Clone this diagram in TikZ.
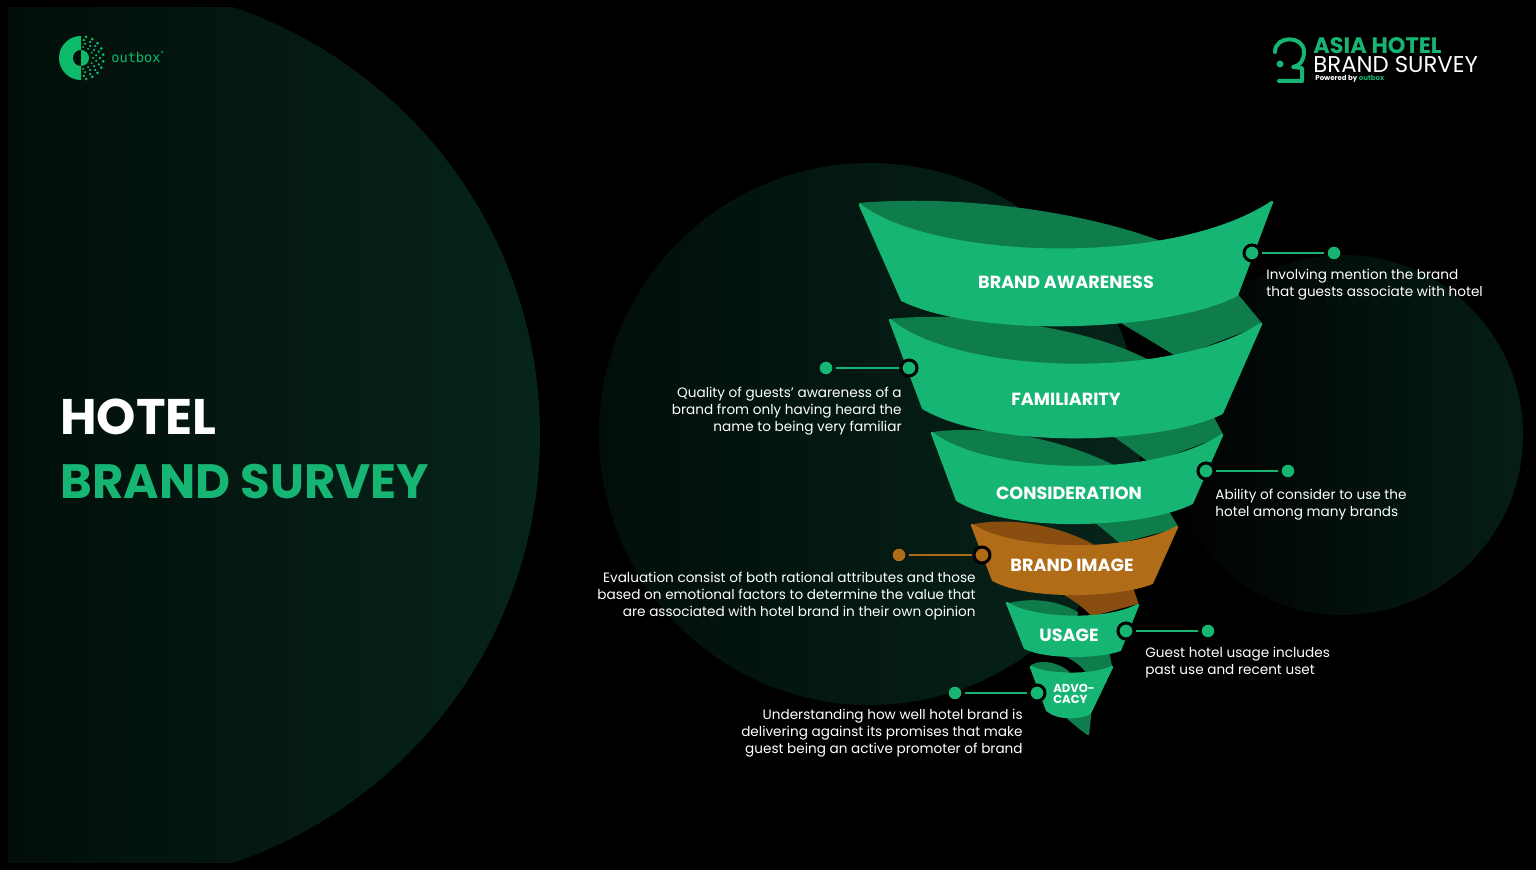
\documentclass[tikz,border=0pt]{standalone}
\usepackage{fontspec}
\setmainfont{Poppins}
\newfontfamily\obfont{DejaVu Sans Mono}
\definecolor{gr}{HTML}{17B573}
\definecolor{grl}{HTML}{0DBB6B}
\definecolor{grd}{HTML}{0E7D4B}
\definecolor{or}{HTML}{B06C17}
\definecolor{ord}{HTML}{8A4D10}
\definecolor{bgd}{HTML}{06241A}
\definecolor{bgr}{HTML}{051E15}
\definecolor{bgk}{HTML}{020E09}
\tikzset{
 fr/.style={fill=#1,draw=#1,line width=1.2pt,line join=round},
 ring/.style={circle,fill=#1,draw=black,line width=1.5pt,minimum size=16*0.5pt,inner sep=0pt},
 tipdot/.style={circle,fill=#1,minimum size=12.5*0.5pt,inner sep=0pt},
 lead/.style={draw=#1,line width=1pt,shorten <=0.2pt,shorten >=1.5pt},
 desc/.style={text=white,font=\fontsize{6.8}{8.35}\selectfont,inner sep=0pt},
 bandtxt/.style={text=white,font=\bfseries\fontsize{#1}{#1}\selectfont,inner sep=0pt},
}
\begin{document}
\begin{tikzpicture}[x=0.5pt,y=-0.5pt]
\useasboundingbox (0,0) rectangle (1536,870);
\fill[black] (0,0) rectangle (1536,870);
% background discs
\begin{scope}
 \clip (8,8) rectangle (1536,862);
 \clip (88.6,435) circle[radius=451.4];
 \shade[left color=bgk,right color=bgd] (8,0) rectangle (540,870);
\end{scope}
\begin{scope}
 \clip (870,434) circle[radius=271];
 \shade[left color=bgk,right color=bgd] (599,160) rectangle (1141,710);
\end{scope}
\begin{scope}
 \clip (1343,435) circle[radius=180];
 \shade[left color=black,right color=bgr] (1163,250) rectangle (1523,620);
\end{scope}
% tail and back pieces
\fill[fr=grd] (1063,713) -- (1090,715) -- (1088,734) .. controls (1080,728) and (1072,722) .. cycle;
\fill[fr=grd] (1032,666) .. controls (1042,660) and (1058,664) .. (1068,672) -- (1060,682) -- (1045,680) -- cycle;
\fill[fr=grd] (1067,656) -- (1108,652) -- (1111,667) -- (1087,672) .. controls (1082,665) and (1075,660) .. cycle;
\fill[fr=grd] (1010,604) .. controls (1035,598) and (1060,603) .. (1077,613) -- (1070,630) -- (1028,620) -- cycle;
\fill[fr=ord] (1063,593) -- (1132,588) -- (1137,603) -- (1092,615) .. controls (1085,607) and (1075,600) .. cycle;
\fill[fr=ord] (975,525) .. controls (1015,518) and (1060,528) .. (1092,545) -- (1080,560) -- (1000,545) -- cycle;
\fill[fr=grd] (1097,523) -- (1168,512) -- (1177,527) -- (1120,542) .. controls (1112,535) and (1105,529) .. cycle;
\fill[fr=grd] (934,433) .. controls (990,426) and (1060,440) .. (1113,466) -- (1070,480) -- (970,462) -- cycle;
\fill[fr=grd] (1115,436) -- (1212,416) -- (1222,435) -- (1150,462) .. controls (1140,454) and (1128,445) .. cycle;
\fill[fr=grd] (892,320) .. controls (960,313) and (1080,325) .. (1148,361) -- (1067,380) -- (940,356) -- cycle;
\fill[fr=grd] (1123,323) -- (1237,295) -- (1261,324) -- (1178,356) .. controls (1160,345) and (1140,333) .. cycle;
\fill[fr=grd] (860,204) .. controls (960,196) and (1080,212) .. (1160,242) -- (1060,265) -- (905,240) -- cycle;
% front bands
\fill[fr=gr] (860,205) .. controls (930,260) and (1170,270) .. (1272,202) -- (1237,295) .. controls (1170,330) and (980,338) .. (902,300) -- cycle;
\fill[fr=gr] (890,320) .. controls (953,374) and (1168,384) .. (1261,324) -- (1222,413) .. controls (1162,443) and (992,449) .. (923,408) -- cycle;
\fill[fr=gr] (932,433) .. controls (981,473) and (1150,483) .. (1222,435) -- (1192,503) .. controls (1145,527) and (1011,533) .. (957,500) -- cycle;
\fill[fr=or] (972,525) .. controls (1007,550) and (1126,556) .. (1177,527) -- (1152,583) .. controls (1120,596) and (1030,600) .. (993,580) -- cycle;
\fill[fr=gr] (1007,603) .. controls (1029,619) and (1105,623) .. (1138,605) -- (1120,650) .. controls (1101,657) and (1048,659) .. (1025,648) -- cycle;
\fill[fr=gr] (1031,667) .. controls (1045,675) and (1092,677) .. (1112,667) -- (1090,713) .. controls (1082,718) and (1058,720) .. (1047,710) -- cycle;
% band labels
\node[bandtxt=8.8] (tA) at (1066,282) {BRAND AWARENESS};
\node[bandtxt=8.8] (tB) at (1066,399) {FAMILIARITY};
\node[bandtxt=8.8] (tC) at (1069,493) {CONSIDERATION};
\node[bandtxt=8.8] (tD) at (1072,565) {BRAND IMAGE};
\node[bandtxt=8.8] (tE) at (1069,635) {USAGE};
\node[bandtxt=5.8,align=left] (tF) at (1074,694) {ADVO-\\[-0.5pt]CACY};
% callouts
\node[ring=gr] (r1) at (1252,253) {}; \node[tipdot=gr] (d1) at (1334,253) {}; \draw[lead=gr] (r1) -- (d1);
\node[ring=gr] (r2) at (909,368) {}; \node[tipdot=gr] (d2) at (826,368) {}; \draw[lead=gr] (r2) -- (d2);
\node[ring=gr] (r3) at (1206,471) {}; \node[tipdot=gr] (d3) at (1288,471) {}; \draw[lead=gr] (r3) -- (d3);
\node[ring=or] (r4) at (982,555) {}; \node[tipdot=or] (d4) at (899,555) {}; \draw[lead=or] (r4) -- (d4);
\node[ring=gr] (r5) at (1126,631) {}; \node[tipdot=gr] (d5) at (1208,631) {}; \draw[lead=gr] (r5) -- (d5);
\node[ring=gr] (r6) at (1037,693) {}; \node[tipdot=gr] (d6) at (955,693) {}; \draw[lead=gr] (r6) -- (d6);
% descriptions
\node[desc,anchor=north west,align=left] (x1) at (1266,269) {Involving mention the brand\\that guests associate with hotel};
\node[desc,anchor=north east,align=right] (x2) at (902,387) {Quality of guests’ awareness of a\\brand from only having heard the\\name to being very familiar};
\node[desc,anchor=north west,align=left] (x3) at (1215,489) {Ability of consider to use the\\hotel among many brands};
\node[desc,anchor=north east,align=right] (x4) at (976,572) {Evaluation consist of both rational attributes and those\\based on emotional factors to determine the value that\\are associated with hotel brand in their own opinion};
\node[desc,anchor=north west,align=left] (x5) at (1145,647) {Guest hotel usage includes\\past use and recent uset};
\node[desc,anchor=north east,align=right] (x6) at (1023,709) {Understanding how well hotel brand is\\delivering against its promises that make\\guest being an active promoter of brand};
% title
\node[anchor=base west,text=white,font=\bfseries\fontsize{25}{25}\selectfont,inner sep=0pt] (h1) at (60,435) {HOTEL};
\node[anchor=base west,text=gr,font=\bfseries\fontsize{24.1}{25}\selectfont,inner sep=0pt] (h2) at (60,499) {BRAND SURVEY};
% outbox logo
\fill[grl] (81,36) arc[start angle=-90,end angle=-270,radius=22] -- cycle;
\fill[bgk] (81,50) arc[start angle=-90,end angle=-270,radius=8] -- cycle;
\fill[grl] (81,50) arc[start angle=-90,end angle=90,radius=8] -- cycle;
\foreach \r/\s/\n/\o in {11/1.1/6/0,14.5/1.2/7/6,18/1.3/8/0,21.5/1.5/9/5}{
 \foreach \i in {0,...,\n}{
  \pgfmathsetmacro{\a}{-84+\o+(168-2*\o)*\i/\n}
  \fill[grl] ({82+\r*cos(\a)},{58+\r*sin(\a)}) circle[radius=\s];
 }
}
\node[anchor=base west,text=grl,font=\obfont\fontsize{6.8}{8}\selectfont,inner sep=0pt] (ob) at (111,63) {outbox};
\fill[grl] (162,52) circle[radius=1];
% survey logo
\draw[gr,line width=2pt,line cap=round,line join=round] (1275,52) .. controls (1275,35) and (1304,35) .. (1304,52) .. controls (1304,60) and (1300,66) .. (1293,67) -- (1302,68) -- (1302,81) -- (1279,81);
\fill[gr] (1280,64) circle[radius=3.5];
\node[anchor=south west,inner sep=0pt] (l1) at (1313,81) {\vbox{\offinterlineskip
 \hbox{\vrule height 8pt width 0pt\smash{\textcolor{gr}{\bfseries\fontsize{11.2}{12}\selectfont ASIA HOTEL}}}
 \hbox{\vrule height 9.5pt width 0pt\smash{\textcolor{white}{\fontsize{11.4}{12}\selectfont BRAND SURVEY}}}
 \hbox{\vrule height 4pt width 0pt\kern1pt\smash{\textcolor{white}{\bfseries\fontsize{3.5}{4}\selectfont Powered by \textcolor{gr}{outbox}}}}}};
\end{tikzpicture}
\end{document}
